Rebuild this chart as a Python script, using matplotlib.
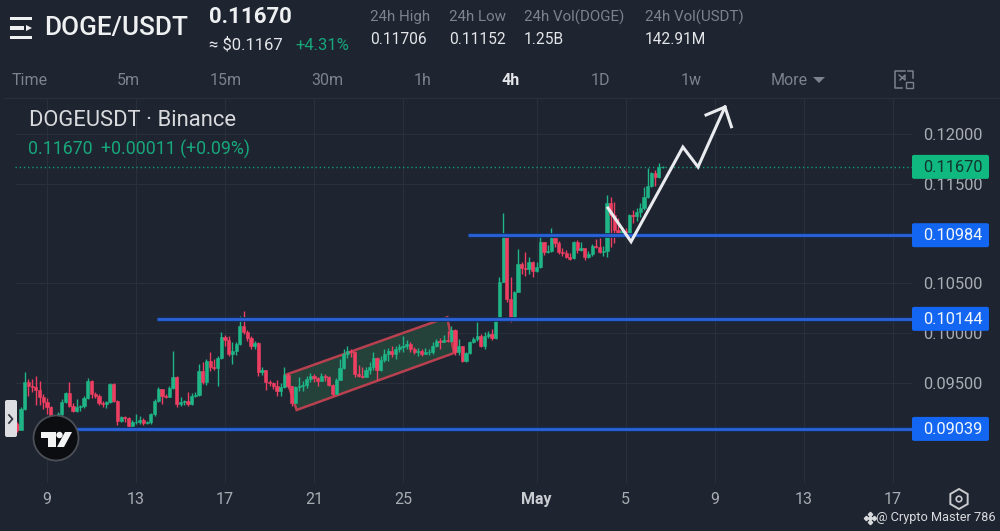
import numpy as np
import matplotlib
matplotlib.use("Agg")
import matplotlib.pyplot as plt
import matplotlib.transforms as mtransforms
from matplotlib.lines import Line2D
from matplotlib.patches import Circle, FancyBboxPatch, Polygon, RegularPolygon

plt.rcParams['font.family'] = ['Roboto', 'DejaVu Sans']

# 4h candles, first one is Apr 7 16:00
first_day = -4 / 3
first_open = 0.0909
closes = [
    .0903, .0924, .0951, .0947, .0946, .0943, .0936, .0931, .0926, .0917,
    .0914, .0919, .0931, .0940, .0927, .0922, .0926, .0927, .0935, .0952,
    .0939, .0937, .0930, .0929, .0931, .0949, .0932, .0912, .0916, .0915,
    .0907, .0911, .0911, .0913, .0910, .0911, .0919, .0932, .0944, .0937,
    .0936, .0945, .0956, .0929, .0931, .0932, .0929, .0937, .0938, .0962,
    .0951, .0972, .0966, .0965, .0975, .0996, .0993, .0979, .0982, .0989,
    .1007, .1001, .0995, .0987, .0990, .0961, .0963, .0951, .0950, .0947,
    .0942, .0946, .0958, .0947, .0930, .0946, .0947, .0948, .0954, .0957,
    .0955, .0952, .0957, .0956, .0948, .0939, .0953, .0965, .0979, .0982,
    .0981, .0959, .0957, .0956, .0963, .0966, .0975, .0963, .0973, .0979,
    .0982, .0979, .0984, .0986, .0987, .0989, .0984, .0981, .0982, .0979,
    .0981, .0981, .0987, .0992, .0991, .0993, .0992, .1003, .0981, .0987,
    .0972, .0980, .0991, .0994, .0997, .0987, .0997, .0999, .0995, .1015,
    .1051, .1098, .1034, .1016, .1041, .1069, .1065, .1064, .1071, .1062,
    .1066, .1092, .1082, .1083, .1096, .1091, .1082, .1081, .1077, .1075,
    .1092, .1084, .1086, .1077, .1080, .1088, .1087, .1082, .1083, .1131,
    .1119, .1104, .1101, .1103, .1101, .1119, .1118, .1122, .1126, .1137,
    .1148, .1161, .1157, .1167, .1167,
]
highs = [
    .0911, .0926, .0961, .0954, .0954, .0957, .0952, .0939, .0935, .0927,
    .0917, .0921, .0934, .0941, .0951, .0930, .0934, .0928, .0937, .0955,
    .0953, .0941, .0939, .0932, .0932, .0950, .0950, .0933, .0917, .0917,
    .0916, .0913, .0919, .0917, .0915, .0912, .0920, .0934, .0946, .0944,
    .0939, .0947, .0982, .0957, .0936, .0933, .0941, .0940, .0941, .0969,
    .0971, .0974, .0981, .0974, .0977, .1001, .0998, .0997, .0991, .0991,
    .1017, .1022, .1003, .0997, .0992, .0991, .0966, .0963, .0953, .0951,
    .0953, .0950, .0966, .0960, .0947, .0947, .0956, .0952, .0957, .0960,
    .0959, .0956, .0960, .0959, .0957, .0949, .0955, .0974, .0984, .0987,
    .0984, .0982, .0968, .0966, .0966, .0971, .0981, .0976, .0977, .0984,
    .0985, .0987, .0987, .0989, .0997, .0993, .0991, .0986, .0985, .0984,
    .0985, .0984, .0991, .0994, .0995, .0998, .1002, .1007, .1004, .0994,
    .0987, .0981, .0992, .0996, .1011, .0999, .1001, .1002, .1004, .1016,
    .1056, .1121, .1098, .1056, .1042, .1085, .1071, .1082, .1077, .1072,
    .1071, .1099, .1092, .1089, .1106, .1097, .1093, .1086, .1084, .1081,
    .1093, .1094, .1092, .1086, .1083, .1090, .1095, .1096, .1088, .1139,
    .1137, .1132, .1116, .1107, .1106, .1120, .1124, .1126, .1131, .1147,
    .1166, .1162, .1164, .1171, .1168,
]
lows = [
    .0901, .0903, .0923, .0937, .0941, .0928, .0928, .0924, .0919, .0916,
    .0912, .0913, .0917, .0930, .0926, .0921, .0921, .0922, .0925, .0934,
    .0935, .0935, .0928, .0926, .0925, .0930, .0931, .0908, .0911, .0911,
    .0905, .0907, .0909, .0909, .0908, .0909, .0909, .0917, .0931, .0929,
    .0935, .0936, .0944, .0926, .0927, .0928, .0927, .0928, .0936, .0937,
    .0949, .0948, .0962, .0963, .0947, .0974, .0987, .0977, .0969, .0978,
    .0988, .0999, .0992, .0984, .0984, .0957, .0958, .0943, .0947, .0944,
    .0937, .0937, .0945, .0945, .0927, .0930, .0942, .0942, .0945, .0951,
    .0951, .0947, .0952, .0952, .0947, .0937, .0939, .0953, .0964, .0975,
    .0976, .0956, .0956, .0955, .0956, .0959, .0963, .0953, .0962, .0971,
    .0972, .0976, .0974, .0981, .0981, .0984, .0981, .0979, .0977, .0977,
    .0979, .0978, .0979, .0986, .0984, .0991, .0991, .0991, .0978, .0978,
    .0971, .0971, .0979, .0990, .0992, .0986, .0984, .0995, .0993, .0994,
    .1016, .1051, .1031, .1011, .1015, .1041, .1059, .1057, .1059, .1056,
    .1061, .1065, .1079, .1081, .1082, .1087, .1080, .1078, .1076, .1073,
    .1074, .1081, .1083, .1073, .1076, .1078, .1086, .1081, .1078, .1077,
    .1087, .1091, .1097, .1099, .1099, .1100, .1111, .1113, .1117, .1124,
    .1136, .1147, .1148, .1156, .1166,
]

date_ticks = [0, 4, 8, 12, 16, 22, 26, 30, 34, 38]
date_labels = ['9', '13', '17', '21', '25', 'May', '5', '9', '13', '17']
price_ticks = [0.095, 0.100, 0.105, 0.115, 0.120]
price_labels = ['0.09500', '0.10000', '0.10500', '0.11500', '0.12000']

last_price = 0.1167
level_prices = [0.10984, 0.10144, 0.09039]
level_labels = ['0.10984', '0.10144', '0.09039']
level_starts = [18.92, 4.95, 0.6]

channel_days = [10.70, 17.99, 18.29, 11.22]
channel_prices = [0.09580, 0.10160, 0.09801, 0.09229]
path_days = [25.21, 26.25, 28.58, 29.26, 30.47]
path_prices = [0.11257, 0.10919, 0.11869, 0.11669, 0.12271]
barb_days = [29.62, 30.47, 30.76]
barb_prices = [0.12191, 0.12271, 0.12073]

BG = '#1e2430'
GRID = '#2a303b'
GREEN = '#1fb586'
RED = '#ee3f62'
BLUE = '#2b62d9'
GREY = '#7c838d'
WHITE = '#e9ebee'

fig = plt.figure(figsize=(10, 5.31), dpi=100, facecolor=BG)
ax = fig.add_axes([0, 48 / 531, 0.912, 385 / 531], facecolor=BG)
ax.set_xlim(-47 / 22.25, 865 / 22.25)
ax.set_ylim(0.12 - 349 / 9960, 0.12 + 36 / 9960)
for s in ax.spines.values():
    s.set_visible(False)

# pixel coordinates of the 1000x531 image, for the app chrome
px = mtransforms.Affine2D().scale(1 / 1000, -1 / 531).translate(0, 1) + fig.transFigure

ax.yaxis.tick_right()
ax.set_xticks(date_ticks, date_labels)
ax.set_yticks(price_ticks, price_labels)
ax.tick_params(axis='x', length=0, pad=6.5, labelsize=11.5, labelcolor='#a9adb3')
ax.tick_params(axis='y', length=0, pad=8, labelsize=11.8, labelcolor='#a9adb3')
ax.get_xticklabels()[5].set_fontweight('bold')
ax.get_xticklabels()[5].set_color('#c9ccd0')
ax.vlines(date_ticks, *ax.get_ylim(), color=GRID, lw=0.8, zorder=0)
ax.hlines(price_ticks, -1.45, 865 / 22.25, color=GRID, lw=0.8, zorder=0)

# channel under the candles
ax.add_patch(Polygon(list(zip(channel_days, channel_prices)), closed=True, facecolor='#25423a',
                     edgecolor='#b8404f', lw=1.8, zorder=1))

# candles
opens = np.array([first_open] + closes[:-1])
closes_arr = np.array(closes)
days = first_day + np.arange(len(closes)) / 6
colors = [GREEN if c >= o else RED for o, c in zip(opens, closes_arr)]
ax.vlines(days, lows, highs, colors=colors, lw=1.0, zorder=2)
ax.bar(days, closes_arr - opens, bottom=opens, width=0.145, color=colors, edgecolor=colors, lw=0.4, zorder=3)

# last price and drawn levels
ax.hlines(last_price, -1.45, 865 / 22.25, color='#159a78', lw=1.0, linestyles=(0, (1, 2)), zorder=2)
for p, start in zip(level_prices, level_starts):
    ax.plot([start, 865 / 22.25], [p, p], color='#12305f', lw=3.4, zorder=4, solid_capstyle='butt')
    ax.plot([start, 865 / 22.25], [p, p], color=BLUE, lw=2.0, zorder=4, solid_capstyle='butt')

# white projection arrow
ax.plot(path_days, path_prices, color=WHITE, lw=2.2, zorder=5, clip_on=False, solid_joinstyle='miter')
ax.plot(barb_days, barb_prices, color=WHITE, lw=2.2, zorder=5, clip_on=False, solid_joinstyle='miter')


def badge(price, label, face, textcolor):
    y = 531 - ax.transData.transform((0, price))[1]
    ax.add_patch(FancyBboxPatch((914, y - 10), 73, 20, boxstyle='round,pad=2', facecolor=face,
                                edgecolor='none', transform=px, clip_on=False, zorder=6))
    ax.text(923, y + 0.5, label, color=textcolor, fontsize=11.8, va='center', transform=px, clip_on=False, zorder=7)


badge(last_price, '0.11670', '#0fb97f', '#12352f')
for p, lab in zip(level_prices, level_labels):
    badge(p, lab, '#1266f1', '#f2f5fa')


def chrome(x, y, s, size=11, color=WHITE, weight='normal', ha='left'):
    fig.text(x, y, s, transform=px, fontsize=size, color=color, fontweight=weight, va='center', ha=ha)


# header
for y0, y1, x1 in [(17, 20, 32), (26, 30, 24), (36, 39, 32)]:
    fig.patches.append(FancyBboxPatch((10, y0), x1 - 10, y1 - y0, boxstyle='square,pad=0', facecolor='#eef0f2',
                                      edgecolor='none', transform=px))
fig.patches.append(Polygon([(26, 25), (32, 28), (26, 31)], closed=True, facecolor='#eef0f2', edgecolor='none', transform=px))
chrome(44, 28, 'DOGE/USDT', 18.8, '#eef0f2', 'medium')
chrome(209, 17, '0.11670', 16, '#eef0f2', 'bold')
chrome(209, 45, '≈ $0.1167', 12, '#e4e6e9')
chrome(295, 45, '+4.31%', 12, '#17a77b')
for x, head, value in [(370, '24h High', '0.11706'), (449, '24h Low', '0.11152'),
                       (524, '24h Vol(DOGE)', '1.25B'), (645, '24h Vol(USDT)', '142.91M')]:
    chrome(x, 17, head, 10.9, GREY)
    chrome(x, 39, value, 11.2, '#e4e6e9')

# timeframe row
for x, s in [(12, 'Time'), (117, '5m'), (210, '15m'), (311, '30m'), (414, '1h'), (591, '1D'), (681, '1w'), (771, 'More')]:
    chrome(x, 80.5, s, 11.5, GREY)
chrome(502, 80.5, '4h', 11.5, '#e4e6e9', 'bold')
fig.patches.append(Polygon([(813, 77), (825, 77), (819, 83)], closed=True, facecolor=GREY, edgecolor='none', transform=px))
fig.lines.append(Line2D([905, 895, 895, 902], [71, 71, 88, 88], color=GREY, lw=1.1, transform=px))
fig.lines.append(Line2D([908, 913, 913], [71, 71, 78], color=GREY, lw=1.1, transform=px))
fig.lines.append(Line2D([899, 905, 905, 900], [75, 80, 75, 80], color=GREY, lw=1.0, transform=px))
fig.patches.append(FancyBboxPatch((906, 82), 7, 6, boxstyle='square,pad=0', facecolor='none', edgecolor=GREY, lw=1.0, transform=px))
fig.lines.append(Line2D([4, 1000], [98, 98], color=GRID, lw=0.9, transform=px))

# chart legend
chrome(29, 121, 'DOGEUSDT · Binance', 15.8, '#d8dadd')
chrome(28, 149.5, '0.11670', 12.8, '#17a77b')
chrome(101, 149.5, '+0.00011 (+0.09%)', 12.8, '#17a77b')

# sidebar handle and TradingView logo over the candles
ax.add_patch(FancyBboxPatch((7, 402), 8, 33, boxstyle='round,pad=2', facecolor='#dcdee2', edgecolor='none',
                            transform=px, clip_on=False, zorder=8))
ax.plot([9, 12.5, 9], [415, 419, 423], color='#333842', lw=1.3, transform=px, clip_on=False, zorder=9)
circle = Circle((56, 438), 22.5, facecolor='#0c0d10', edgecolor='#4b4f57', lw=1.3, transform=px, clip_on=False, zorder=8)
ax.add_patch(circle)
ax.add_patch(Polygon([(41, 432), (56, 432), (56, 447), (48, 447), (48, 438), (41, 438)], closed=True,
                     facecolor='#f4f4f4', edgecolor='none', transform=px, clip_on=False, zorder=9))
ax.add_patch(Circle((59.5, 435), 3.2, facecolor='#f4f4f4', edgecolor='none', transform=px, clip_on=False, zorder=9))
ax.add_patch(Polygon([(65, 432), (72, 432), (64, 447), (57, 447)], closed=True, facecolor='#f4f4f4', edgecolor='none',
                     transform=px, clip_on=False, zorder=9))

# settings icon and watermark
fig.patches.append(RegularPolygon((959, 499), 6, radius=10, facecolor='none', edgecolor='#c8cacd', lw=1.4, transform=px))
fig.patches.append(Circle((959, 499), 2.8, facecolor='none', edgecolor='#c8cacd', lw=1.2, transform=px))
for dx, dy in [(0, -4), (-4, 0), (4, 0), (0, 4), (0, 0)]:
    fig.lines.append(Line2D([870 + dx], [518 + dy], marker='D', ms=2.2, color='#d8dadd', transform=px))
chrome(876, 518, '@ Crypto Master 786', 9.2, '#d8dadd')

fig.savefig('out.png', dpi=100, facecolor=BG)
